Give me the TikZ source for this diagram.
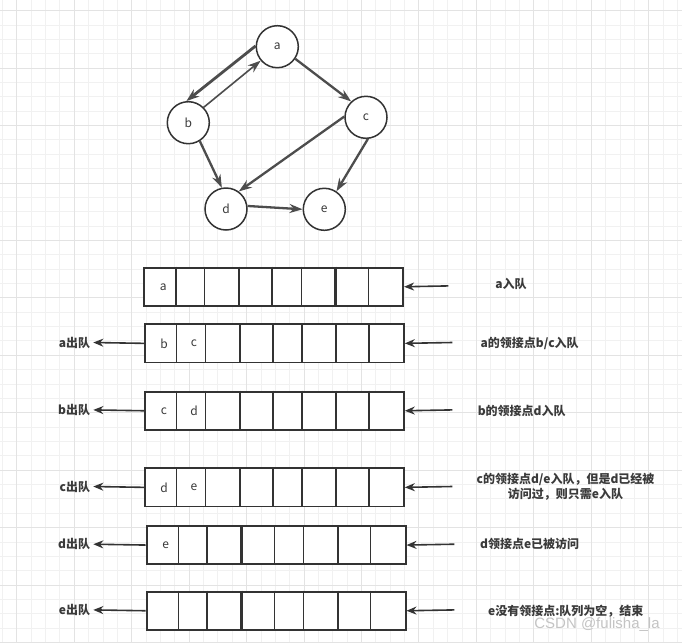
\documentclass[tikz,border=0pt]{standalone}
\usepackage{fontspec}
\setmainfont{Liberation Sans}
\newfontfamily\cjk{Noto Sans CJK SC}
\usetikzlibrary{arrows.meta}
\definecolor{gridminor}{HTML}{F1F1F1}
\definecolor{gridmajor}{HTML}{E3E3E3}
\definecolor{ink}{HTML}{333333}
\definecolor{edgecol}{HTML}{4D4D4D}
\definecolor{txt}{HTML}{3A3A3A}
\definecolor{wmark}{HTML}{C4C4C4}
\begin{document}
\begin{tikzpicture}[x=1pt,y=-1pt,
  vert/.style={circle,draw=ink,line width=1.5pt,fill=white,minimum size=42pt,inner sep=0pt,font=\cjk\fontsize{12}{14}\selectfont,text=txt},
  gedge/.style={draw=edgecol,line width=2.3pt,-{Stealth[length=13pt,width=9pt]}},
  qrow/.style={draw=ink,line width=1.8pt,fill=white,anchor=north west,minimum width=259pt,minimum height=38.3pt,inner sep=0pt},
  cell/.style={font=\cjk\fontsize{12}{14}\selectfont,text=txt},
  lab/.style={font=\cjk\bfseries\fontsize{12}{15}\selectfont,text=txt,inner sep=0pt},
  qarrow/.style={draw=ink,line width=1.6pt,-{Stealth[length=10pt,width=8pt]}},
]
\useasboundingbox (0,0) rectangle (682,643);
\fill[white] (0,0) rectangle (682,643);
% grid
\foreach \i in {0,...,47} \draw[gridminor,line width=0.9pt] (2.5+14.36*\i,0) -- (2.5+14.36*\i,643);
\foreach \j in {1,...,45} \draw[gridminor,line width=0.9pt] (0,-3.7+14.36*\j) -- (682,-3.7+14.36*\j);
\foreach \i in {1,5,...,45} \draw[gridmajor,line width=0.9pt] (2.5+14.36*\i,0) -- (2.5+14.36*\i,643);
\foreach \j in {1,5,...,45} \draw[gridmajor,line width=0.9pt] (0,-3.7+14.36*\j) -- (682,-3.7+14.36*\j);

% graph
\node[vert] (a) at (277.3,46.7) {a};
\node[vert] (b) at (188.3,122.7) {b};
\node[vert] (c) at (366,117.3) {c};
\node[vert] (d) at (226,209) {d};
\node[vert] (e) at (324.3,209.3) {e};
\draw[gedge,line width=2.8pt] (a.178) -- (b.95);
\draw[gedge,line width=1.6pt] (b.45) -- (a.220);
\draw[gedge] (a.-34) -- (c.133);
\draw[gedge] (c.178) -- (d.54);
\draw[gedge] (c.-85) -- (e.56);
\draw[gedge] (b.-58) -- (d.101);
\draw[gedge] (d.8) -- (e.180);

% queues
\foreach \r/\x/\y in {q1/143.3/266.7, q2/144/323.3, q3/144/390.7, q4/144/467.3, q5/145.7/525, q6/145.7/590.7} {
  \node[qrow] (\r) at (\x,\y) {};
  \foreach \o in {32.7,61.3,128.8,157.9,225}
    \draw[ink,line width=1.4pt] ([xshift=\o pt]\r.north west) -- ([xshift=\o pt]\r.south west);
  \foreach \o in {95.7,192}
    \draw[ink,line width=2.4pt] ([xshift=\o pt]\r.north west) -- ([xshift=\o pt]\r.south west);
}
% cell letters
\node[cell] (c1a) at ([xshift=20pt]q1.west) {a};
\node[cell] (c2a) at ([xshift=20pt]q2.west) {b};
\node[cell] (c2b) at ([xshift=50pt]q2.west) {c};
\node[cell] (c3a) at ([xshift=20pt]q3.west) {c};
\node[cell] (c3b) at ([xshift=50pt]q3.west) {d};
\node[cell] (c4a) at ([xshift=20pt]q4.west) {d};
\node[cell] (c4b) at ([xshift=50pt]q4.west) {e};
\node[cell] (c5a) at ([xshift=20pt]q5.west) {e};

% left labels (dequeue)
\node[lab,anchor=east,inner xsep=3pt] (l2) at (93.3,342.5) {a出队};
\node[lab,anchor=east,inner xsep=3pt] (l3) at (93.3,409.9) {b出队};
\node[lab,anchor=east,inner xsep=3pt] (l4) at (93.3,486.5) {c出队};
\node[lab,anchor=east,inner xsep=3pt] (l5) at (93.3,544.2) {d出队};
\node[lab,anchor=east,inner xsep=3pt] (l6) at (93.3,609.9) {e出队};
\foreach \k in {2,...,6} \draw[qarrow] (q\k.west) -- (l\k.east);

% right arrows
\coordinate (r1) at (448.3,285.9);
\coordinate (r2) at (452.3,342.5);
\coordinate (r3) at (452.3,409.9);
\coordinate (r4) at (452.3,486.5);
\coordinate (r5) at (454.3,544.2);
\coordinate (r6) at (454.3,609.9);
\foreach \k in {1,...,6} \draw[qarrow] (r\k) -- (q\k.east);

% right texts
\node[lab] (t1) at (511,284) {a入队};
\node[lab] (t2) at (529.7,343.3) {a的领接点b/c入队};
\node[lab] (t3) at (521.7,410.7) {b的领接点d入队};
\node[lab,align=center] (t4) at (565.5,486.8) {c的领接点d/e入队，但是d已经被\\访问过，则只需e入队};
\node[lab] (t5) at (529.7,544.3) {d领接点e已被访问};
\node[lab] (t6) at (565.8,611) {e没有领接点:队列为空，结束};

% watermark
\node[font=\fontsize{15}{17}\selectfont,text=wmark,inner sep=0pt] (wm) at (597,625) {CSDN @fulisha\_la};
\end{tikzpicture}
\end{document}
